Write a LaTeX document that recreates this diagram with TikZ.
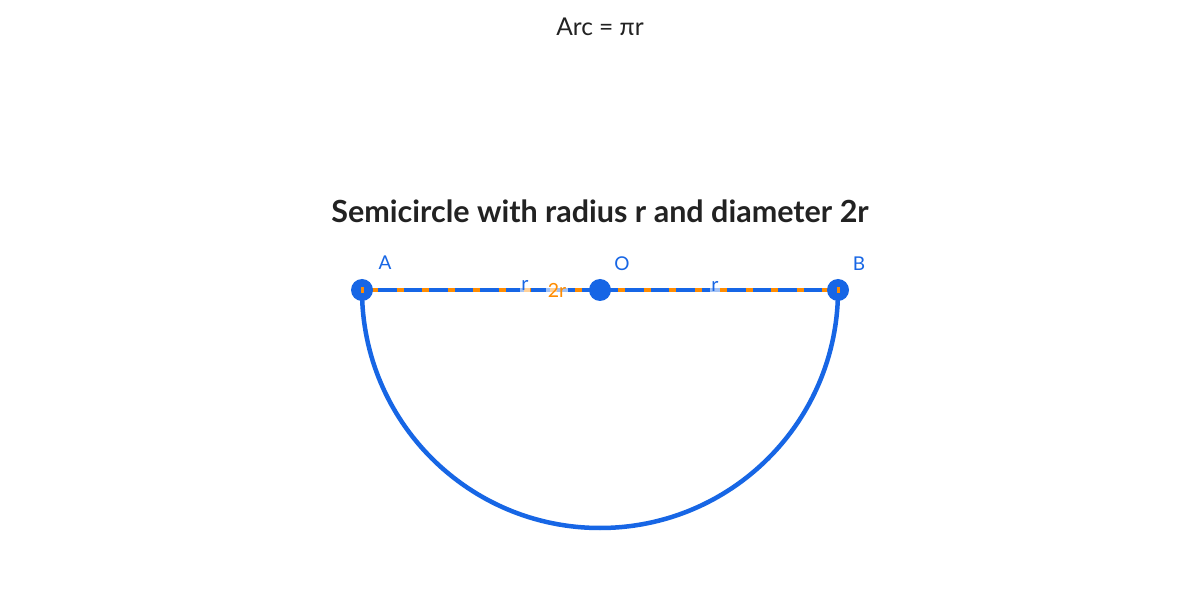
\documentclass[tikz,border=0pt]{standalone}
\usepackage{fontspec}
\setmainfont{Lato}
\definecolor{cblue}{HTML}{1766E5}
\definecolor{corange}{HTML}{FF8C00}
\definecolor{ctext}{HTML}{222222}
\begin{document}
\begin{tikzpicture}[x=1pt,y=-1pt,
  dot/.style={circle,fill=cblue,inner sep=0pt,minimum size=22pt},
  ptlabel/.style={text=cblue,font=\fontsize{19}{21}\selectfont,anchor=base,inner sep=0pt},
  seglabel/.style={font=\fontsize{19.5}{21}\selectfont,anchor=base,fill=white,fill opacity=0.6,text opacity=1,inner sep=1.5pt},
  blueline/.style={draw=cblue,line width=4.5pt},
  orangedash/.style={draw=corange,line width=4pt,dash pattern=on 7pt off 18.5pt}]
\useasboundingbox (0,0) rectangle (1200,593);
\fill[white] (0,0) rectangle (1200,593);
\node[anchor=base,text=ctext,font=\fontsize{24.5}{28}\selectfont] (arc) at (600,36) {Arc = πr};
\node[anchor=base,text=ctext,font=\bfseries\fontsize{30.5}{34}\selectfont] (title) at (600,223) {Semicircle with radius r and diameter 2r};
\coordinate (Ac) at (362,290);
\coordinate (Oc) at (600,290);
\coordinate (Bc) at (838,290);
\draw[blueline] (Ac) arc (180:0:238);
\draw[blueline] (Ac) -- (Bc);
\draw[orangedash,dash phase=16.5pt] (Ac) -- (Oc);
\draw[orangedash,dash phase=7.5pt] (Oc) -- (Bc);
\node[dot] (A) at (Ac) {};
\node[dot] (O) at (Oc) {};
\node[dot] (B) at (Bc) {};
\fill[corange] ([xshift=-1.5pt,yshift=-3pt]A.center) rectangle ([xshift=2pt,yshift=3pt]A.center);
\fill[corange] ([xshift=-1.5pt,yshift=-3pt]B.center) rectangle ([xshift=2pt,yshift=3pt]B.center);
\node[ptlabel] (lA) at (385,270) {A};
\node[ptlabel] (lO) at (622,271) {O};
\node[ptlabel] (lB) at (859,271) {B};
\node[seglabel,text=cblue] (r1) at (525,291) {r};
\node[seglabel,text=cblue] (r2) at (715,292) {r};
\node[seglabel,text=corange] (d) at (557,298) {2r};
\end{tikzpicture}
\end{document}
